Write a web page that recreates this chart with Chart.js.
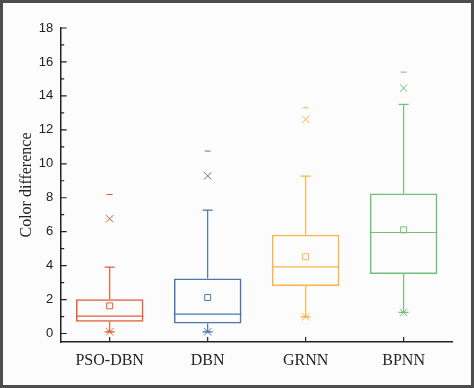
<!DOCTYPE html>
<html>
<head>
<meta charset="utf-8">
<script src="https://cdn.jsdelivr.net/npm/chart.js@4/dist/chart.umd.min.js"></script>
<style>
  body { margin: 0; background: #ffffff; }
  #frame {
    width: 474px; height: 388px; box-sizing: border-box;
    border: 3px solid #4d4d4d; background: #fdfcfc; position: relative;
  }
  #wrap { position: absolute; left: 0; top: 0; width: 468px; height: 382px; }
</style>
</head>
<body>
<div id="frame"><div id="wrap"><canvas id="boxChart"></canvas></div></div>
<script>
'use strict';

// Data
var categories = ['PSO-DBN', 'DBN', 'GRNN', 'BPNN'];
var q1 = [0.69, 0.59, 2.79, 3.50];
var q3 = [2.02, 3.24, 5.82, 8.25];
var median = [1.02, 1.14, 3.93, 5.95];
var mean = [1.63, 2.12, 4.52, 6.11];
var whiskerLow = [0.10, 0.10, 0.98, 1.24];
var whiskerHigh = [3.91, 7.27, 9.27, 13.5];
var p1 = [0.10, 0.10, 0.98, 1.24];
var p99 = [6.76, 9.29, 12.62, 14.46];
var minValue = [0.10, 0.10, 0.98, 1.24];
var maxValue = [8.19, 10.75, 13.3, 15.4];
var yTicks = [0, 2, 4, 6, 8, 10, 12, 14, 16, 18];

var colors = ['#e0603c', '#4a78ad', '#f5b64a', '#72bf7a'];

// Whiskers, medians and the inward axis ticks
var boxExtras = {
  id: 'boxExtras',
  afterDatasetsDraw: function (chart) {
    var ctx = chart.ctx;
    var xs = chart.scales.x;
    var ys = chart.scales.y;
    var meta = chart.getDatasetMeta(0);
    ctx.save();
    for (var i = 0; i < categories.length; i++) {
      var cx = xs.getPixelForValue(i);
      var half = meta.data[i].width / 2;
      var cap = 5;
      var ym = ys.getPixelForValue(median[i]);
      var yHi = ys.getPixelForValue(whiskerHigh[i]);
      var yLo = ys.getPixelForValue(whiskerLow[i]);
      ctx.strokeStyle = colors[i];
      ctx.lineWidth = 1.2;
      ctx.beginPath();
      ctx.moveTo(cx - half, ym);
      ctx.lineTo(cx + half, ym);
      ctx.moveTo(cx, ys.getPixelForValue(q3[i]));
      ctx.lineTo(cx, yHi);
      ctx.moveTo(cx, ys.getPixelForValue(q1[i]));
      ctx.lineTo(cx, yLo);
      ctx.moveTo(cx - cap, yHi);
      ctx.lineTo(cx + cap, yHi);
      ctx.moveTo(cx - cap, yLo);
      ctx.lineTo(cx + cap, yLo);
      ctx.stroke();
    }

    var area = chart.chartArea;
    ctx.strokeStyle = '#222222';
    ctx.lineWidth = 1.2;
    ctx.beginPath();
    for (var v = 0; v <= 18; v++) {
      var y = ys.getPixelForValue(v);
      var len = v % 2 === 0 ? 6 : 3.5;
      ctx.moveTo(area.left, y);
      ctx.lineTo(area.left + len, y);
    }
    for (var j = 0; j < categories.length; j++) {
      var x = xs.getPixelForValue(j);
      ctx.moveTo(x, area.bottom);
      ctx.lineTo(x, area.bottom - 5);
    }
    ctx.stroke();
    ctx.restore();
  }
};

function markerSet(label, values, style, radius) {
  return {
    type: 'line',
    label: label,
    data: values,
    showLine: false,
    pointStyle: style,
    pointRadius: radius,
    pointBorderWidth: 1,
    pointBorderColor: colors,
    pointBackgroundColor: 'rgba(0,0,0,0)'
  };
}

var boxes = categories.map(function (c, i) { return [q1[i], q3[i]]; });

var ctx = document.getElementById('boxChart').getContext('2d');
var boxChart = new Chart(ctx, {
  type: 'bar',
  data: {
    labels: categories,
    datasets: [
      {
        label: 'IQR',
        data: boxes,
        backgroundColor: 'rgba(0,0,0,0)',
        borderColor: colors,
        borderWidth: 1.6,
        borderSkipped: false,
        categoryPercentage: 1,
        barPercentage: 0.69
      },
      markerSet('Mean', mean, 'rect', 4.2),
      markerSet('99%', p99, 'crossRot', 5.2),
      markerSet('1%', p1, 'crossRot', 5.2),
      markerSet('Max', maxValue, 'line', 3),
      markerSet('Min', minValue, 'line', 3)
    ]
  },
  plugins: [boxExtras],
  options: {
    responsive: true,
    maintainAspectRatio: false,
    animation: false,
    events: [],
    layout: { padding: { top: 25, right: 18.4, left: 0, bottom: 0 } },
    plugins: {
      legend: { display: false },
      tooltip: { enabled: false }
    },
    scales: {
      x: {
        offset: true,
        grid: { display: true, drawOnChartArea: false, drawTicks: false },
        border: { color: '#222222', width: 1.5 },
        ticks: {
          padding: 9,
          color: '#222222',
          font: { family: 'Liberation Serif', size: 16 }
        },
        afterFit: function (axis) { axis.height = 43; }
      },
      y: {
        min: -0.5,
        max: 18,
        grid: { display: true, drawOnChartArea: false, drawTicks: false },
        border: { color: '#222222', width: 1.5 },
        ticks: {
          padding: 7.5,
          color: '#222222',
          font: { family: 'Liberation Sans', size: 13 }
        },
        afterBuildTicks: function (axis) {
          axis.ticks = yTicks.map(function (v) { return { value: v }; });
        },
        title: {
          display: true,
          text: 'Color difference',
          color: '#222222',
          font: { family: 'Liberation Serif', size: 16 },
          padding: { top: 14.4, bottom: 0 }
        },
        afterFit: function (axis) { axis.width = 57.7; }
      }
    }
  }
});
</script>
</body>
</html>
